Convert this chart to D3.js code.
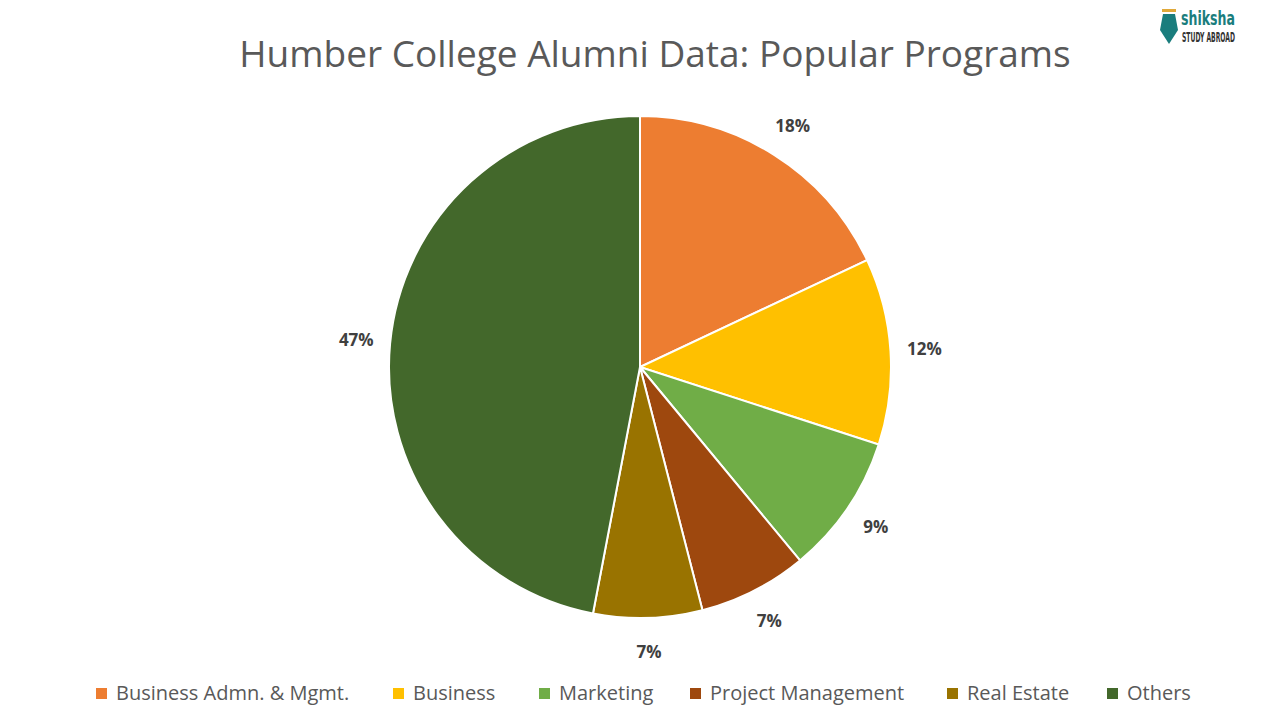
<!DOCTYPE html>
<html><head><meta charset="utf-8">
<script src="https://cdn.jsdelivr.net/npm/d3@7"></script>
<style>body{margin:0;background:#fff}</style></head>
<body><svg id="c" width="1280" height="720"></svg>
<script>
const categories=["Business Admn. & Mgmt.","Business","Marketing","Project Management","Real Estate","Others"];
const values=[18,12,9,7,7,47];
const colors=["#ED7D31","#FFC000","#70AD47","#9E480E","#997300","#43682B"];
const svg=d3.select("#c");
const font="'Open Sans', 'Liberation Sans', sans-serif";
svg.append("text").attr("x",655).attr("y",67).attr("text-anchor","middle")
 .attr("font-family",font).attr("font-size",37).attr("fill","#595959")
 .text("Humber College Alumni Data: Popular Programs");
const cx=640,cy=367,r=251;
const pie=d3.pie().sort(null).value(d=>d)(values);
const arc=d3.arc().innerRadius(0).outerRadius(r);
const lab=d3.arc().innerRadius(285).outerRadius(285);
const g=svg.append("g").attr("transform",`translate(${cx},${cy})`);
g.selectAll("path").data(pie).join("path").attr("d",arc)
 .attr("fill",(d,i)=>colors[i]).attr("stroke","#fff").attr("stroke-width",2);
g.selectAll("text").data(pie).join("text")
 .attr("transform",d=>`translate(${lab.centroid(d)})`)
 .attr("text-anchor","middle").attr("dy","0.35em")
 .attr("font-family",font).attr("font-weight","bold").attr("font-size",17).attr("fill","#404040")
 .text(d=>d.data+"%");
const lx=[96,393,539,690,947,1107];
const lg=svg.append("g");
categories.forEach((c,i)=>{
 lg.append("rect").attr("x",lx[i]).attr("y",688).attr("width",11).attr("height",11).attr("fill",colors[i]);
 lg.append("text").attr("x",lx[i]+20).attr("y",700).attr("font-family",font).attr("font-size",20).attr("fill","#595959").text(c);
});
const lo=svg.append("g");
lo.append("path").attr("d","M1163,14 L1175,14 L1178,30 L1169,44 L1160,30 Z").attr("fill","#1a7d7d");
lo.append("rect").attr("x",1162).attr("y",9).attr("width",14).attr("height",3).attr("fill","#e0a93a");
lo.append("text").attr("x",1181).attr("y",25).attr("font-family","'DejaVu Sans',sans-serif").attr("font-weight","bold").attr("font-size",20).attr("fill","#1a7d7d").attr("textLength",54).attr("lengthAdjust","spacingAndGlyphs").text("shiksha");
lo.append("text").attr("x",1182).attr("y",42).attr("font-family","'Liberation Sans Narrow','DejaVu Sans Condensed',sans-serif").attr("font-weight","bold").attr("font-size",14).attr("fill","#333").attr("textLength",53).attr("lengthAdjust","spacingAndGlyphs").text("STUDY ABROAD");
</script></body></html>
